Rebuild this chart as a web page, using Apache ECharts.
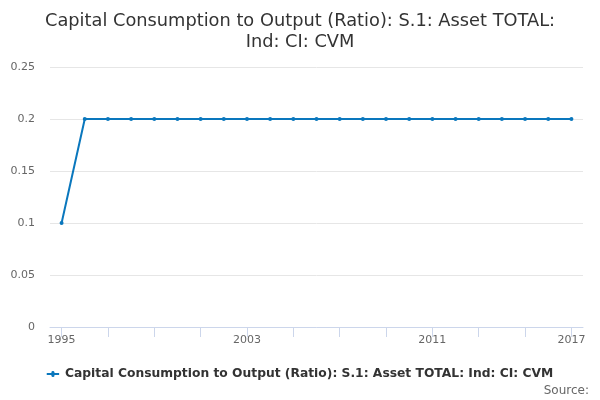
<!DOCTYPE html>
<html>
<head>
<meta charset="utf-8">
<script src="https://cdn.jsdelivr.net/npm/echarts@6/dist/echarts.min.js"></script>
<style>
  html, body { margin: 0; padding: 0; background: #fff; }
  #chart { width: 600px; height: 400px; }
</style>
</head>
<body>
<div id="chart"></div>
<script>
// years on the x axis
var years = [];
for (var y = 1995; y <= 2017; y++) years.push(String(y));
// ratio values
var ratio = [0.1, 0.2, 0.2, 0.2, 0.2, 0.2, 0.2, 0.2, 0.2, 0.2, 0.2, 0.2,
             0.2, 0.2, 0.2, 0.2, 0.2, 0.2, 0.2, 0.2, 0.2, 0.2, 0.2];
var shownYears = ['1995', '2003', '2011', '2017'];
var seriesName = 'Capital Consumption to Output (Ratio): S.1: Asset TOTAL: Ind: CI: CVM';

var fontFamily = 'DejaVu Sans';
var lineColor = '#0a77bd';

var myChart = echarts.init(document.getElementById('chart'));
var option = {
  backgroundColor: '#fff',
  animation: false,
  textStyle: { fontFamily: fontFamily },
  title: {
    text: 'Capital Consumption to Output (Ratio): S.1: Asset TOTAL:\nInd: CI: CVM',
    left: 'center',
    top: 6,
    textStyle: {
      color: '#333',
      fontFamily: fontFamily,
      fontSize: 17.8,
      fontWeight: 'normal',
      lineHeight: 21,
      align: 'center'
    }
  },
  grid: {
    left: 50,
    right: 17,
    top: 67,
    bottom: 73
  },
  legend: {
    bottom: 15,
    left: 'center',
    itemWidth: 14,
    itemHeight: 6,
    itemGap: 6,
    icon: 'path://M0,2 L5.3,2 A1.8,1.8 0 1 1 8.7,2 L14,2 L14,4 L8.7,4 A1.8,1.8 0 1 1 5.3,4 L0,4 Z',
    textStyle: {
      color: '#333',
      fontSize: 12.3,
      fontWeight: 'bold',
      fontFamily: fontFamily
    },
    data: [seriesName]
  },
  graphic: [{
    type: 'text',
    right: 11,
    bottom: 3,
    style: {
      text: 'Source:',
      fill: '#666',
      font: '12px "DejaVu Sans"'
    }
  }],
  xAxis: {
    type: 'category',
    data: years,
    boundaryGap: true,
    axisLine: { show: true, lineStyle: { color: '#ccd6eb', width: 1 } },
    axisTick: {
      show: true,
      alignWithLabel: true,
      length: 10,
      interval: function (index) { return index % 2 === 0; },
      lineStyle: { color: '#ccd6eb' }
    },
    axisLabel: {
      color: '#666',
      fontSize: 11,
      margin: 8,
      interval: function (index, value) { return shownYears.indexOf(value) >= 0; }
    },
    splitLine: { show: false }
  },
  yAxis: {
    type: 'value',
    min: 0,
    max: 0.25,
    interval: 0.05,
    axisLine: { show: false },
    axisTick: { show: false },
    axisLabel: {
      color: '#666',
      fontSize: 11,
      margin: 15
    },
    splitLine: { lineStyle: { color: '#e6e6e6', width: 1 } }
  },
  series: [{
    name: seriesName,
    type: 'line',
    data: ratio,
    symbol: 'circle',
    symbolSize: 4,
    showSymbol: true,
    lineStyle: { color: lineColor, width: 2 },
    itemStyle: { color: lineColor }
  }]
};
myChart.setOption(option);
</script>
</body>
</html>
